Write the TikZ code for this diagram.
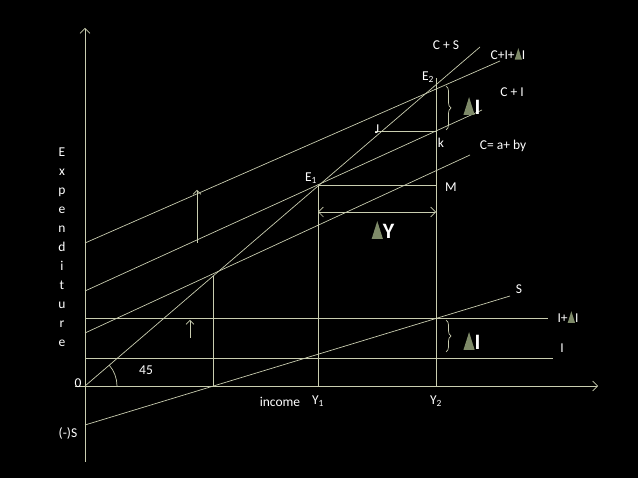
\documentclass[tikz,border=0pt]{standalone}
\usepackage{fontspec}
\setmainfont{Carlito}
\usetikzlibrary{arrows.meta,decorations.pathreplacing}
\definecolor{ln}{HTML}{C9CDB0}
\definecolor{dl}{HTML}{7E8A68}
\newcommand{\dtri}[1][1]{\tikz[baseline=0pt,x=1em,y=1em,scale=#1]\fill[dl](0,0)--(0.3,0.95)--(0.6,0)--cycle;}
\begin{document}
\begin{tikzpicture}[x=1pt,y=-1pt,every node/.style={text=white,font=\fontsize{13.5}{14}\selectfont,inner sep=1pt},
 lin/.style={ln,line width=0.7pt}]
\fill[black] (0,0) rectangle (638,478);
\useasboundingbox (0,0) rectangle (638,478);
% axes
\coordinate (O) at (85,386);
\coordinate (yt) at (85,28);
\coordinate (yb) at (85,462);
\coordinate (xl) at (75,386);
\coordinate (xr) at (598,386);
\draw[lin,-{Straight Barb[length=5pt]}] (yb) -- (yt);
\draw[lin,-{Straight Barb[length=5pt]}] (xl) -- (xr);
% lines
\coordinate (c45) at (480,47);
\draw[lin] (O) -- (c45);
\coordinate (a1) at (85,243); \coordinate (a2) at (500,61);
\draw[lin] (a1) -- (a2);
\coordinate (b1) at (85,291); \coordinate (b2) at (482,110);
\draw[lin] (b1) -- (b2);
\coordinate (c1) at (85,333); \coordinate (c2) at (470,155);
\draw[lin] (c1) -- (c2);
\coordinate (s1) at (85,425); \coordinate (s2) at (510,296);
\draw[lin] (s1) -- (s2);
\coordinate (i1) at (85,358); \coordinate (i2) at (553,358);
\draw[lin] (i1) -- (i2);
\coordinate (j1) at (85,318); \coordinate (j2) at (548,318);
\draw[lin] (j1) -- (j2);
% verticals
\coordinate (v1b) at (213,386); \coordinate (v1t) at (213,276);
\draw[lin] (v1b) -- (v1t);
\coordinate (v2b) at (318,386); \coordinate (e1) at (318,185);
\draw[lin] (v2b) -- (e1);
\coordinate (v3b) at (436,386); \coordinate (v3t) at (436,78);
\draw[lin] (v3b) -- (v3t);
\coordinate (m) at (436,185);
\draw[lin] (e1) -- (m);
\coordinate (jj) at (375,131); \coordinate (kk) at (436,131);
\draw[lin] (jj) -- (kk);
\coordinate (dyl) at (318,212); \coordinate (dyr) at (436,212);
\draw[lin,{Straight Barb[length=5pt]}-{Straight Barb[length=5pt]}] (dyl) -- (dyr);
\coordinate (u1b) at (197,243); \coordinate (u1t) at (197,190);
\draw[lin,-{Straight Barb[length=4pt]}] (u1b) -- (u1t);
\coordinate (u2b) at (190,338); \coordinate (u2t) at (190,320);
\draw[lin,-{Straight Barb[length=4pt]}] (u2b) -- (u2t);
% braces
\coordinate (br1t) at (446,86); \coordinate (br1b) at (446,130);
\draw[lin,decorate,decoration={brace,amplitude=5pt}] (br1t) -- (br1b);
\coordinate (br2t) at (446,320); \coordinate (br2b) at (446,352);
\draw[lin,decorate,decoration={brace,amplitude=5pt}] (br2t) -- (br2b);
% angle
\draw[lin] (117,386) arc[start angle=0,end angle=-40.6,radius=32];
% labels
\node (l0) at (78,383) {0};
\node (l45) at (146,370) {45};
\node (linc) at (280,402) {income};
\node (ly1) at (318,401) {Y\textsubscript{1}};
\node (ly2) at (436,401) {Y\textsubscript{2}};
\node (lms) at (68,434) {(-)S};
\node[align=center,font=\fontsize{13.5}{19}\selectfont] (exp) at (62,247) {E\\x\\p\\e\\n\\d\\i\\t\\u\\r\\e};
\node (le1) at (311,178) {E\textsubscript{1}};
\node (le2) at (428,77) {E\textsubscript{2}};
\node (lm) at (451,187) {M};
\node (lj) at (377,129) {J};
\node (lk) at (441,143) {k};
\node (lcs) at (446,45) {C + S};
\node (lcii) at (508,54) {C+I+\dtri[0.9]I};
\node (lci) at (512,92) {C + I};
\node (lc) at (503,146) {C= a+ by};
\node (ls) at (519,289) {S};
\node (lii) at (568,317) {I+\dtri[0.9]I};
\node (li) at (562,348) {I};
\node[font=\fontsize{22}{22}\selectfont\bfseries] (ldi1) at (472,106) {\dtri[0.85]I};
\node[font=\fontsize{22}{22}\selectfont\bfseries] (ldi2) at (472,341) {\dtri[0.85]I};
\node[font=\fontsize{22}{22}\selectfont\bfseries] (ldy) at (383,230) {\dtri[0.85]Y};
\end{tikzpicture}
\end{document}
